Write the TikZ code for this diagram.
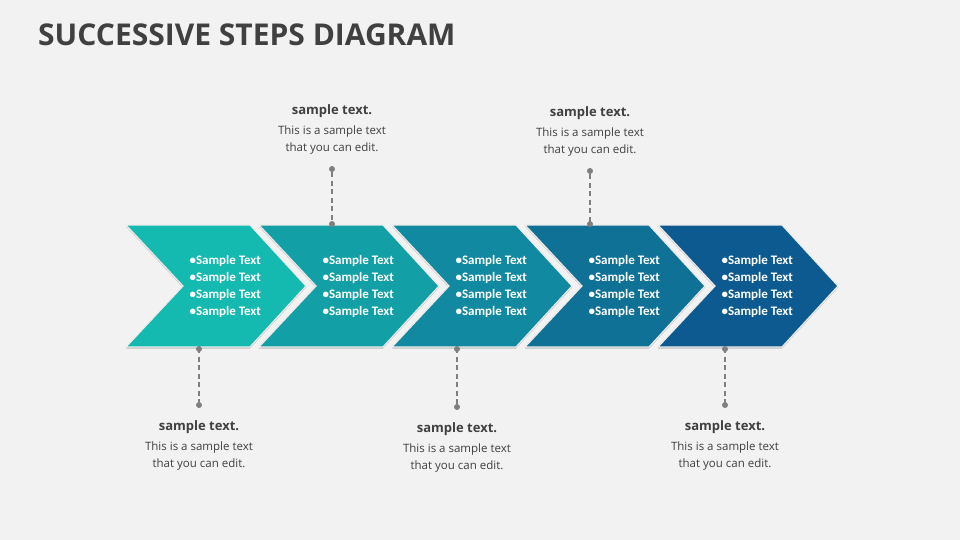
\documentclass[tikz,border=0pt]{standalone}
\usepackage{fontspec}
\setmainfont{Open Sans}
\newfontfamily\carlitofont{Carlito}
\usetikzlibrary{shadows}
\definecolor{bg}{HTML}{F2F2F2}
\definecolor{cA}{HTML}{14B9AF}
\definecolor{cB}{HTML}{12A0A6}
\definecolor{cC}{HTML}{1189A0}
\definecolor{cD}{HTML}{107196}
\definecolor{cE}{HTML}{0D5A91}
\definecolor{txt}{HTML}{404040}
\definecolor{conn}{HTML}{7F7F7F}
\tikzset{
 chev/.style={draw=white!85!gray, line width=1.2pt, drop shadow={opacity=0.45, shadow xshift=0pt, shadow yshift=-1.5pt}},
 bul/.style={text=white, font=\carlitofont\fontsize{13}{17}\selectfont\bfseries, align=left, anchor=west},
 head/.style={text=txt, font=\fontsize{13}{15}\selectfont\bfseries},
 body/.style={text=txt, font=\fontsize{11.5}{17}\selectfont, align=center},
 conndash/.style={conn, line width=1.6pt, dash pattern=on 5pt off 3.5pt},
 dot/.style={circle, fill=conn, inner sep=0pt, minimum size=6pt}
}
\begin{document}
\begin{tikzpicture}[x=1pt,y=-1pt]
\fill[bg] (0,0) rectangle (960,540);
\useasboundingbox (0,0) rectangle (960,540);
\node[anchor=west, text=txt, font=\fontsize{30}{32}\selectfont\bfseries, inner sep=0pt] (title) at (38,35) {SUCCESSIVE STEPS DIAGRAM};
\foreach \i/\c in {4/cE,3/cD,2/cC,1/cB,0/cA}{
  \pgfmathsetmacro{\x}{126+133*\i}
  \fill[fill=\c, chev] (\x,225) -- (\x+124,225) -- (\x+180,286) -- (\x+124,347) -- (\x,347) -- (\x+57,286) -- cycle;
  \node[bul] (b\i) at (\x+60,286) {•Sample Text\\•Sample Text\\•Sample Text\\•Sample Text};
}
\foreach \n/\x/\y in {t1/332/111,t2/590/113}{
  \node[dot] (\n d) at (\x,\y+58) {};
  \coordinate (\n e) at (\x,225);
  \draw[conndash] (\n d) -- (\n e);
  \node[head] (\n h) at (\x,\y) {sample text.};
  \node[body, anchor=north] (\n b) at (\x,\y+11) {This is a sample text\\that you can edit.};
}
\foreach \n/\x/\y in {u1/199/427,u2/457/429,u3/725/427}{
  \node[dot] (\n d) at (\x,\y-22) {};
  \coordinate (\n e) at (\x,348);
  \draw[conndash] (\n e) -- (\n d);
  \node[dot] at (\x,349) {};
  \node[head] (\n h) at (\x,\y) {sample text.};
  \node[body, anchor=north] (\n b) at (\x,\y+11) {This is a sample text\\that you can edit.};
}
\node[dot] at (332,224) {};
\node[dot] at (590,224) {};
\end{tikzpicture}
\end{document}
